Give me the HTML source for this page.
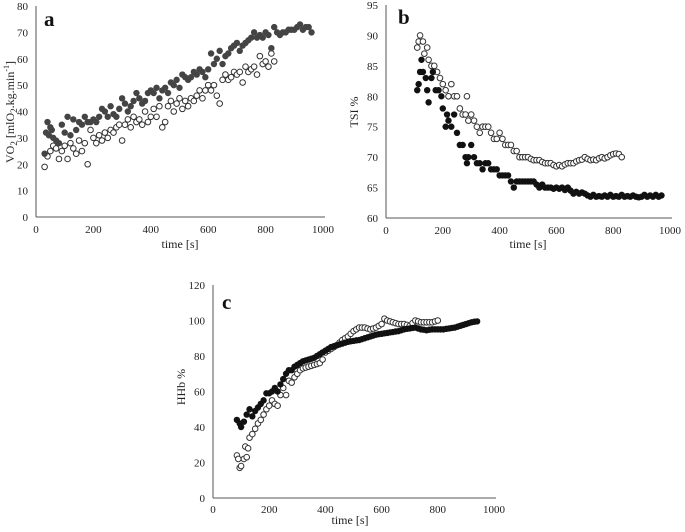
<!DOCTYPE html>
<html><head><meta charset="utf-8"><style>
body{margin:0;background:#fff}
svg{display:block;font-family:"Liberation Serif","Times New Roman",serif}
svg text{font-family:"Liberation Serif","Times New Roman",serif}
</style></head><body>
<svg id="s" width="685" height="532" viewBox="0 0 685 532" xmlns="http://www.w3.org/2000/svg"></svg>
<script>
const aFilled=[[30,24],[35,32],[40,36],[45,31],[50,34],[55,33],[60,30],[70,29],[80,28],[90,35],[100,32],[110,38],[120,31],[130,37],[140,33],[150,36],[160,35],[170,38],[180,36],[190,36],[200,37],[210,36],[220,38],[230,41],[240,40],[250,38],[260,42],[270,39],[280,38],[290,41],[300,45],[310,43],[320,40],[330,42],[340,44],[350,47],[360,45],[370,43],[380,44],[390,47],[400,48],[410,47],[420,49],[430,45],[440,48],[450,49],[460,47],[470,51],[480,50],[490,52],[500,49],[510,54],[520,53],[530,52],[540,53],[550,55],[560,54],[570,56],[580,55],[590,53],[600,56],[610,62],[620,58],[630,60],[640,63],[650,58],[660,61],[670,62],[680,64],[690,65],[700,66],[710,63],[720,65],[730,66],[740,67],[750,68],[760,70],[770,68],[780,69],[790,68],[800,70],[810,69],[820,64],[830,72],[840,70],[850,69],[860,70],[870,70],[880,71],[890,71],[900,71],[910,72],[920,73],[930,71],[940,72],[950,72],[960,70]];
const aOpen=[[30,19],[40,23],[50,25],[60,27],[70,26],[80,22],[90,25],[100,27],[110,22],[120,28],[130,26],[140,24],[150,29],[160,25],[170,28],[180,20],[190,33],[200,30],[210,28],[220,31],[230,29],[240,32],[250,30],[260,33],[270,32],[280,34],[290,35],[300,29],[310,35],[320,37],[330,34],[340,38],[350,36],[360,37],[370,35],[380,40],[390,36],[400,38],[410,41],[420,38],[430,42],[440,34],[450,36],[460,42],[470,44],[480,40],[490,43],[500,45],[510,41],[520,44],[530,42],[540,45],[550,44],[560,46],[570,48],[580,45],[590,48],[600,50],[610,48],[620,50],[630,46],[640,43],[650,52],[660,54],[670,52],[680,53],[690,55],[700,54],[710,55],[720,51],[730,57],[740,55],[750,56],[760,57],[770,54],[780,61],[790,58],[800,59],[810,57],[820,62],[830,59]];
const bFilled=[[110,81],[115,82],[120,84],[125,86],[130,84],[140,83],[145,81],[150,79],[160,83],[165,84],[175,81],[185,81],[195,80],[200,78],[210,75],[215,77],[220,76],[230,75],[240,77],[250,74],[260,72],[270,72],[280,70],[285,69],[290,70],[300,72],[310,70],[320,69],[330,69],[340,68],[350,69],[360,69],[370,68],[380,68],[390,68],[400,67],[410,67],[420,67],[430,67],[440,66],[450,65],[460,66],[470,66],[480,66],[490,66],[500,66],[510,66],[520,66],[530,65.5],[540,65],[550,65.5],[560,65],[570,65],[580,65],[590,64.8],[600,65],[610,64.8],[620,65],[630,64.6],[640,65],[650,64.5],[660,64],[670,64.3],[680,64],[690,64.2],[700,64],[710,63.7],[720,63.5],[730,63.8],[740,63.5],[750,63.6],[760,63.5],[770,63.7],[780,63.5],[790,63.8],[800,63.5],[810,63.6],[820,63.5],[830,63.8],[840,63.5],[850,63.6],[860,63.5],[870,63.7],[880,63.5],[890,63.4],[900,63.5],[910,63.8],[920,63.5],[930,63.7],[940,63.5],[950,63.8],[960,63.5],[970,63.7]];
const bOpen=[[110,88],[115,89],[120,90],[130,89],[135,87],[145,88],[150,86],[160,85],[170,85],[180,84],[190,83],[200,82],[210,81],[220,80],[230,82],[240,80],[250,80],[260,78],[270,77],[280,77],[285,80],[290,76],[300,77],[310,76],[320,75],[330,74],[340,75],[350,75],[360,75],[370,74],[380,73],[390,73],[400,74],[410,73],[420,72],[430,72],[440,72],[450,71],[460,71],[470,70],[480,70],[490,70],[500,70],[510,69.7],[520,69.5],[530,69.5],[540,69.5],[550,69.2],[560,69],[570,69],[580,69],[590,68.7],[600,68.5],[610,68.7],[620,68.5],[630,68.8],[640,69],[650,69],[660,69],[670,69.3],[680,69.5],[690,69.6],[700,70],[710,69.7],[720,69.5],[730,69.6],[740,69.5],[750,69.8],[760,70],[770,69.8],[780,70],[790,70.3],[800,70.5],[810,70.6],[820,70.5],[830,70]];
const cFilled=[[85,44],[95,42],[100,40],[110,43],[120,47],[130,50],[140,46],[150,49],[160,51],[170,53],[180,55],[190,59],[200,59],[210,60],[220,62],[230,60],[240,64],[250,67],[260,70],[270,72],[280,72],[290,74],[300,75],[310,76],[320,77],[330,77.5],[340,78],[350,78.5],[360,79],[370,80],[380,81],[390,82],[400,83],[410,84],[420,85],[430,85.5],[440,86],[450,86.5],[460,87],[470,87.5],[480,88],[490,88.3],[500,88.5],[510,88.8],[520,89],[530,89.5],[540,90],[550,90.5],[560,91],[570,91.5],[580,92],[590,92.3],[600,92.5],[610,92.8],[620,93],[630,93.3],[640,93.5],[650,93.8],[660,94],[670,94.5],[680,95],[690,95.3],[700,95.5],[710,95.8],[720,96],[730,95.5],[740,95],[750,94.8],[760,94.5],[770,94.8],[780,95],[790,95],[800,95],[810,95],[820,95],[830,95.3],[840,95.5],[850,95.8],[860,96],[870,96.5],[880,97],[890,97.5],[900,98],[910,98.5],[920,99],[930,99.3],[940,99.5]];
const cOpen=[[85,24],[90,22],[95,17],[100,18],[110,22],[115,29],[120,23],[125,28],[130,34],[140,36],[150,39],[160,42],[170,44],[180,47],[190,50],[200,52],[210,55],[220,53],[230,52],[240,58],[250,62],[260,58],[270,66],[280,65],[290,68],[300,70],[310,72],[320,73],[330,73.5],[340,74],[350,74.5],[360,75],[370,75.5],[380,76],[390,78],[400,82],[410,83],[420,84],[430,85],[440,86],[450,87.5],[460,89],[470,90],[480,91],[490,92.5],[500,94],[510,95],[520,96],[530,96],[540,96],[550,95.5],[560,95],[570,95.5],[580,96],[590,97],[600,98],[610,101],[620,100],[630,99.5],[640,99],[650,98.5],[660,98],[670,98],[680,98],[690,97.5],[700,97],[710,98.5],[720,100],[730,99.5],[740,99],[750,99],[760,99],[770,99],[780,99],[790,99.5],[800,100]];
const aTicksY=[0,10,20,30,40,50,60,70,80];
const bTicksY=[60,65,70,75,80,85,90,95];
const cTicksY=[0,20,40,60,80,100,120];
const xTicks=[0,200,400,600,800,1000];

const NS="http://www.w3.org/2000/svg";
const FONT='"Liberation Serif", "Times New Roman", serif';
const svg=document.getElementById('s');
function mk(tag,attrs,parent){const e=document.createElementNS(NS,tag);for(const k in attrs)e.setAttribute(k,attrs[k]);if(tag==='text')e.setAttribute('font-family',FONT);(parent||svg).appendChild(e);return e;}
function panel(p){
  const g=mk('g',{});
  
  
  const sx=v=>p.x0+(v-0)/1000*(p.x1-p.x0);
  const sy=v=>p.y0-(v-p.ymin)/(p.ymax-p.ymin)*(p.y0-p.y1);
  const ax=mk('line',{x1:p.x0,y1:p.y1,x2:p.x0,y2:p.y0,stroke:'#555','stroke-width':1},g);
  
  const bx=mk('line',{x1:p.x0,y1:p.y0,x2:p.x1+2,y2:p.y0,stroke:'#555','stroke-width':1},g);
  
  p.ty.forEach(v=>{const t=mk('text',{x:p.x0-8,y:sy(v)+4,'text-anchor':'end','font-size':11,fill:'#222'},g);t.textContent=v;
    });
  xTicks.forEach(v=>{const t=mk('text',{x:sx(v),y:p.y0+p.xtOff,'text-anchor':'middle','font-size':11,fill:'#222'},g);t.textContent=v;
    });
  const xl=mk('text',{x:p.xlx,y:p.y0+p.xlOff,'text-anchor':'middle','font-size':12,fill:'#222'},g);xl.textContent='time [s]';
  
  const yl=mk('text',{x:0,y:0,transform:`translate(${p.ylx},${p.yly}) rotate(-90)`,'text-anchor':'middle','font-size':12,fill:'#222'},g);
  yl.innerHTML=p.ylab;
  
  const lt=mk('text',{x:p.lx,y:p.ly,'font-size':21,'font-weight':'bold',fill:'#111'},g);lt.textContent=p.id;
  
  p.open.forEach(d=>{const c=mk('circle',{cx:sx(d[0]),cy:sy(d[1]),r:2.8,fill:'#fff',stroke:'#333','stroke-width':1},g);
    });
  p.filled.forEach(d=>{const c=mk('circle',{cx:sx(d[0]),cy:sy(d[1]),r:3.2,fill:p.fc,stroke:'none'},g);
    });
}
panel({id:'a',x0:36,x1:323,y0:217,y1:6,ymin:0,ymax:80,ty:aTicksY,open:aOpen,filled:aFilled,fc:'#444',xtOff:16,xlOff:31,
  xlx:180,ylx:14,yly:112,lx:44,ly:26,ylab:'VO<tspan font-size="9" dy="3">2</tspan><tspan dy="-3"> [mlO</tspan><tspan font-size="9" dy="3">2</tspan><tspan dy="-3">.kg.min</tspan><tspan font-size="8" dy="-5">-1</tspan><tspan dy="5">]</tspan>'});
panel({id:'b',x0:386,x1:670,y0:218,y1:5,ymin:60,ymax:95,ty:bTicksY,open:bOpen,filled:bFilled,fc:'#111',xtOff:16,xlOff:30,
  xlx:528,ylx:358,yly:112,lx:398,ly:24,ylab:'TSI %'});
panel({id:'c',x0:213,x1:494,y0:498,y1:285,ymin:0,ymax:120,ty:cTicksY,open:cOpen,filled:cFilled,fc:'#111',xtOff:15,xlOff:26,
  xlx:350,ylx:185,yly:387,lx:222,ly:309,ylab:'HHb %'});
</script>
</body></html>
